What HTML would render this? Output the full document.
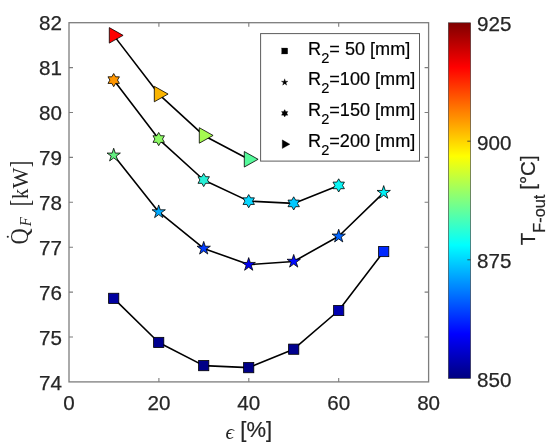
<!DOCTYPE html>
<html><head><meta charset="utf-8"><title>plot</title>
<style>
html,body{margin:0;padding:0;background:#fff;}
body{width:550px;height:448px;overflow:hidden;}
svg{display:block;}
text{font-family:"Liberation Sans",Arial,sans-serif;fill:#262626;}
.t20{font-size:20.6px;stroke:#262626;stroke-width:0.25px;}
.lg{font-size:18.1px;fill:#000;stroke:#000;stroke-width:0.2px;}
.ser{font-family:"Liberation Serif","DejaVu Serif",serif;}
</style></head><body>
<svg width="550" height="448" viewBox="0 0 550 448">
<defs><linearGradient id="jet" x1="0" y1="1" x2="0" y2="0">
<stop offset="0.0000" stop-color="rgb(0,0,128)"/>
<stop offset="0.0156" stop-color="rgb(0,0,143)"/>
<stop offset="0.0312" stop-color="rgb(0,0,159)"/>
<stop offset="0.0469" stop-color="rgb(0,0,175)"/>
<stop offset="0.0625" stop-color="rgb(0,0,191)"/>
<stop offset="0.0781" stop-color="rgb(0,0,207)"/>
<stop offset="0.0938" stop-color="rgb(0,0,223)"/>
<stop offset="0.1094" stop-color="rgb(0,0,239)"/>
<stop offset="0.1250" stop-color="rgb(0,0,255)"/>
<stop offset="0.1406" stop-color="rgb(0,16,255)"/>
<stop offset="0.1562" stop-color="rgb(0,32,255)"/>
<stop offset="0.1719" stop-color="rgb(0,48,255)"/>
<stop offset="0.1875" stop-color="rgb(0,64,255)"/>
<stop offset="0.2031" stop-color="rgb(0,80,255)"/>
<stop offset="0.2188" stop-color="rgb(0,96,255)"/>
<stop offset="0.2344" stop-color="rgb(0,112,255)"/>
<stop offset="0.2500" stop-color="rgb(0,128,255)"/>
<stop offset="0.2656" stop-color="rgb(0,143,255)"/>
<stop offset="0.2812" stop-color="rgb(0,159,255)"/>
<stop offset="0.2969" stop-color="rgb(0,175,255)"/>
<stop offset="0.3125" stop-color="rgb(0,191,255)"/>
<stop offset="0.3281" stop-color="rgb(0,207,255)"/>
<stop offset="0.3438" stop-color="rgb(0,223,255)"/>
<stop offset="0.3594" stop-color="rgb(0,239,255)"/>
<stop offset="0.3750" stop-color="rgb(0,255,255)"/>
<stop offset="0.3906" stop-color="rgb(16,255,239)"/>
<stop offset="0.4062" stop-color="rgb(32,255,223)"/>
<stop offset="0.4219" stop-color="rgb(48,255,207)"/>
<stop offset="0.4375" stop-color="rgb(64,255,191)"/>
<stop offset="0.4531" stop-color="rgb(80,255,175)"/>
<stop offset="0.4688" stop-color="rgb(96,255,159)"/>
<stop offset="0.4844" stop-color="rgb(112,255,143)"/>
<stop offset="0.5000" stop-color="rgb(128,255,128)"/>
<stop offset="0.5156" stop-color="rgb(143,255,112)"/>
<stop offset="0.5312" stop-color="rgb(159,255,96)"/>
<stop offset="0.5469" stop-color="rgb(175,255,80)"/>
<stop offset="0.5625" stop-color="rgb(191,255,64)"/>
<stop offset="0.5781" stop-color="rgb(207,255,48)"/>
<stop offset="0.5938" stop-color="rgb(223,255,32)"/>
<stop offset="0.6094" stop-color="rgb(239,255,16)"/>
<stop offset="0.6250" stop-color="rgb(255,255,0)"/>
<stop offset="0.6406" stop-color="rgb(255,239,0)"/>
<stop offset="0.6562" stop-color="rgb(255,223,0)"/>
<stop offset="0.6719" stop-color="rgb(255,207,0)"/>
<stop offset="0.6875" stop-color="rgb(255,191,0)"/>
<stop offset="0.7031" stop-color="rgb(255,175,0)"/>
<stop offset="0.7188" stop-color="rgb(255,159,0)"/>
<stop offset="0.7344" stop-color="rgb(255,143,0)"/>
<stop offset="0.7500" stop-color="rgb(255,128,0)"/>
<stop offset="0.7656" stop-color="rgb(255,112,0)"/>
<stop offset="0.7812" stop-color="rgb(255,96,0)"/>
<stop offset="0.7969" stop-color="rgb(255,80,0)"/>
<stop offset="0.8125" stop-color="rgb(255,64,0)"/>
<stop offset="0.8281" stop-color="rgb(255,48,0)"/>
<stop offset="0.8438" stop-color="rgb(255,32,0)"/>
<stop offset="0.8594" stop-color="rgb(255,16,0)"/>
<stop offset="0.8750" stop-color="rgb(255,0,0)"/>
<stop offset="0.8906" stop-color="rgb(239,0,0)"/>
<stop offset="0.9062" stop-color="rgb(223,0,0)"/>
<stop offset="0.9219" stop-color="rgb(207,0,0)"/>
<stop offset="0.9375" stop-color="rgb(191,0,0)"/>
<stop offset="0.9531" stop-color="rgb(175,0,0)"/>
<stop offset="0.9688" stop-color="rgb(159,0,0)"/>
<stop offset="0.9844" stop-color="rgb(143,0,0)"/>
<stop offset="1.0000" stop-color="rgb(128,0,0)"/>
</linearGradient></defs>
<rect x="0" y="0" width="550" height="448" fill="#fff"/>
<rect x="69.0" y="22.7" width="359.60" height="359.20" fill="#fff" stroke="#7d7d7d" stroke-width="1.3"/>
<path d="M158.90 381.9v-4M158.90 22.7v4M248.80 381.9v-4M248.80 22.7v4M338.70 381.9v-4M338.70 22.7v4M69.0 337.00h4M428.6 337.00h-4M69.0 292.10h4M428.6 292.10h-4M69.0 247.20h4M428.6 247.20h-4M69.0 202.30h4M428.6 202.30h-4M69.0 157.40h4M428.6 157.40h-4M69.0 112.50h4M428.6 112.50h-4M69.0 67.60h4M428.6 67.60h-4" stroke="#7d7d7d" stroke-width="1.1" fill="none"/>
<text class="t20" x="62" y="389.8" text-anchor="end">74</text>
<text class="t20" x="62" y="344.8" text-anchor="end">75</text>
<text class="t20" x="62" y="299.8" text-anchor="end">76</text>
<text class="t20" x="62" y="254.8" text-anchor="end">77</text>
<text class="t20" x="62" y="209.9" text-anchor="end">78</text>
<text class="t20" x="62" y="164.9" text-anchor="end">79</text>
<text class="t20" x="62" y="119.9" text-anchor="end">80</text>
<text class="t20" x="62" y="75.0" text-anchor="end">81</text>
<text class="t20" x="62" y="30.0" text-anchor="end">82</text>
<text class="t20" x="69.0" y="409.8" text-anchor="middle">0</text>
<text class="t20" x="158.9" y="409.8" text-anchor="middle">20</text>
<text class="t20" x="248.8" y="409.8" text-anchor="middle">40</text>
<text class="t20" x="338.7" y="409.8" text-anchor="middle">60</text>
<text class="t20" x="428.6" y="409.8" text-anchor="middle">80</text>
<polyline points="113.70,298.35 158.70,342.45 203.70,365.62 248.70,367.65 293.70,349.20 338.70,310.50 383.70,251.55" fill="none" stroke="#000" stroke-width="1.6" stroke-linejoin="round"/>
<polyline points="113.70,155.25 158.70,211.95 203.70,248.40 248.70,264.60 293.70,261.45 338.70,236.25 383.70,192.60" fill="none" stroke="#000" stroke-width="1.6" stroke-linejoin="round"/>
<polyline points="113.70,80.10 158.70,139.05 203.70,180.00 248.70,201.15 293.70,203.40 338.70,185.40" fill="none" stroke="#000" stroke-width="1.6" stroke-linejoin="round"/>
<polyline points="113.70,35.37 158.70,94.05 203.70,135.45 248.70,159.30" fill="none" stroke="#000" stroke-width="1.6" stroke-linejoin="round"/>
<rect x="108.60" y="293.25" width="10.20" height="10.20" fill="rgb(0,0,160)" stroke="#000" stroke-width="0.8" stroke-linejoin="miter"/>
<rect x="153.60" y="337.35" width="10.20" height="10.20" fill="rgb(0,0,143)" stroke="#000" stroke-width="0.8" stroke-linejoin="miter"/>
<rect x="198.60" y="360.52" width="10.20" height="10.20" fill="rgb(0,0,135)" stroke="#000" stroke-width="0.8" stroke-linejoin="miter"/>
<rect x="243.60" y="362.55" width="10.20" height="10.20" fill="rgb(0,0,135)" stroke="#000" stroke-width="0.8" stroke-linejoin="miter"/>
<rect x="288.60" y="344.10" width="10.20" height="10.20" fill="rgb(0,0,143)" stroke="#000" stroke-width="0.8" stroke-linejoin="miter"/>
<rect x="333.60" y="305.40" width="10.20" height="10.20" fill="rgb(0,0,175)" stroke="#000" stroke-width="0.8" stroke-linejoin="miter"/>
<rect x="378.60" y="246.45" width="10.20" height="10.20" fill="rgb(0,40,255)" stroke="#000" stroke-width="0.8" stroke-linejoin="miter"/>
<polygon points="113.70,148.25 115.27,153.09 120.36,153.09 116.24,156.08 117.81,160.91 113.70,157.92 109.59,160.91 111.16,156.08 107.04,153.09 112.13,153.09" fill="rgb(100,240,130)" stroke="#000" stroke-width="0.8" stroke-linejoin="miter"/>
<polygon points="158.70,204.95 160.27,209.79 165.36,209.79 161.24,212.78 162.81,217.61 158.70,214.62 154.59,217.61 156.16,212.78 152.04,209.79 157.13,209.79" fill="rgb(0,170,255)" stroke="#000" stroke-width="0.8" stroke-linejoin="miter"/>
<polygon points="203.70,241.40 205.27,246.24 210.36,246.24 206.24,249.23 207.81,254.06 203.70,251.07 199.59,254.06 201.16,249.23 197.04,246.24 202.13,246.24" fill="rgb(0,60,255)" stroke="#000" stroke-width="0.8" stroke-linejoin="miter"/>
<polygon points="248.70,257.60 250.27,262.44 255.36,262.44 251.24,265.43 252.81,270.26 248.70,267.27 244.59,270.26 246.16,265.43 242.04,262.44 247.13,262.44" fill="rgb(0,0,240)" stroke="#000" stroke-width="0.8" stroke-linejoin="miter"/>
<polygon points="293.70,254.45 295.27,259.29 300.36,259.29 296.24,262.28 297.81,267.11 293.70,264.12 289.59,267.11 291.16,262.28 287.04,259.29 292.13,259.29" fill="rgb(0,10,255)" stroke="#000" stroke-width="0.8" stroke-linejoin="miter"/>
<polygon points="338.70,229.25 340.27,234.09 345.36,234.09 341.24,237.08 342.81,241.91 338.70,238.92 334.59,241.91 336.16,237.08 332.04,234.09 337.13,234.09" fill="rgb(0,100,255)" stroke="#000" stroke-width="0.8" stroke-linejoin="miter"/>
<polygon points="383.70,185.60 385.27,190.44 390.36,190.44 386.24,193.43 387.81,198.26 383.70,195.27 379.59,198.26 381.16,193.43 377.04,190.44 382.13,190.44" fill="rgb(0,240,245)" stroke="#000" stroke-width="0.8" stroke-linejoin="miter"/>
<polygon points="113.70,73.50 115.60,76.80 119.42,76.80 117.51,80.10 119.42,83.40 115.60,83.40 113.70,86.70 111.80,83.40 107.98,83.40 109.89,80.10 107.98,76.80 111.80,76.80" fill="rgb(255,150,0)" stroke="#000" stroke-width="0.8" stroke-linejoin="miter"/>
<polygon points="158.70,132.45 160.60,135.75 164.42,135.75 162.51,139.05 164.42,142.35 160.60,142.35 158.70,145.65 156.80,142.35 152.98,142.35 154.89,139.05 152.98,135.75 156.80,135.75" fill="rgb(140,250,100)" stroke="#000" stroke-width="0.8" stroke-linejoin="miter"/>
<polygon points="203.70,173.40 205.60,176.70 209.42,176.70 207.51,180.00 209.42,183.30 205.60,183.30 203.70,186.60 201.80,183.30 197.98,183.30 199.89,180.00 197.98,176.70 201.80,176.70" fill="rgb(40,240,215)" stroke="#000" stroke-width="0.8" stroke-linejoin="miter"/>
<polygon points="248.70,194.55 250.60,197.85 254.42,197.85 252.51,201.15 254.42,204.45 250.60,204.45 248.70,207.75 246.80,204.45 242.98,204.45 244.89,201.15 242.98,197.85 246.80,197.85" fill="rgb(10,215,255)" stroke="#000" stroke-width="0.8" stroke-linejoin="miter"/>
<polygon points="293.70,196.80 295.60,200.10 299.42,200.10 297.51,203.40 299.42,206.70 295.60,206.70 293.70,210.00 291.80,206.70 287.98,206.70 289.89,203.40 287.98,200.10 291.80,200.10" fill="rgb(0,200,255)" stroke="#000" stroke-width="0.8" stroke-linejoin="miter"/>
<polygon points="338.70,178.80 340.60,182.10 344.42,182.10 342.51,185.40 344.42,188.70 340.60,188.70 338.70,192.00 336.80,188.70 332.98,188.70 334.89,185.40 332.98,182.10 336.80,182.10" fill="rgb(10,245,245)" stroke="#000" stroke-width="0.8" stroke-linejoin="miter"/>
<polygon points="109.30,27.62 123.10,35.37 109.30,43.12" fill="rgb(255,0,0)" stroke="#000" stroke-width="0.8" stroke-linejoin="miter"/>
<polygon points="154.30,86.30 168.10,94.05 154.30,101.80" fill="rgb(250,180,0)" stroke="#000" stroke-width="0.8" stroke-linejoin="miter"/>
<polygon points="199.30,127.70 213.10,135.45 199.30,143.20" fill="rgb(165,250,80)" stroke="#000" stroke-width="0.8" stroke-linejoin="miter"/>
<polygon points="244.30,151.55 258.10,159.30 244.30,167.05" fill="rgb(85,250,155)" stroke="#000" stroke-width="0.8" stroke-linejoin="miter"/>
<rect x="260.6" y="33.6" width="158.9" height="127.5" fill="#fff" stroke="#5c5c5c" stroke-width="1"/>
<rect x="281.74" y="48.04" width="5.92" height="5.92" fill="#000" stroke="#000" stroke-width="0.3" stroke-linejoin="miter"/>
<text class="lg" x="308.1" y="55.3" xml:space="preserve">R<tspan font-size="14.6" dy="8">2</tspan><tspan dy="-8">= 50 [mm]</tspan></text>
<polygon points="284.70,78.80 285.49,81.22 288.03,81.22 285.97,82.71 286.76,85.13 284.70,83.64 282.64,85.13 283.43,82.71 281.37,81.22 283.91,81.22" fill="#000" stroke="#000" stroke-width="0.3" stroke-linejoin="miter"/>
<text class="lg" x="308.1" y="85.4" xml:space="preserve">R<tspan font-size="14.6" dy="8">2</tspan><tspan dy="-8">=100 [mm]</tspan></text>
<polygon points="284.70,109.60 285.77,111.45 287.90,111.45 286.83,113.30 287.90,115.15 285.77,115.15 284.70,117.00 283.63,115.15 281.50,115.15 282.57,113.30 281.50,111.45 283.63,111.45" fill="#000" stroke="#000" stroke-width="0.3" stroke-linejoin="miter"/>
<text class="lg" x="308.1" y="116.4" xml:space="preserve">R<tspan font-size="14.6" dy="8">2</tspan><tspan dy="-8">=150 [mm]</tspan></text>
<polygon points="282.24,139.86 289.96,144.20 282.24,148.54" fill="#000" stroke="#000" stroke-width="0.3" stroke-linejoin="miter"/>
<text class="lg" x="308.1" y="147.3" xml:space="preserve">R<tspan font-size="14.6" dy="8">2</tspan><tspan dy="-8">=200 [mm]</tspan></text>
<rect x="448.3" y="22.8" width="22.4" height="355.7" fill="url(#jet)" stroke="#3a3a3a" stroke-width="0.6"/>
<text class="t20" x="477" y="386.9">850</text>
<path d="M470.7 259.8h-3.4" stroke="#333" stroke-width="0.8"/>
<text class="t20" x="477" y="268.2">875</text>
<path d="M470.7 141.2h-3.4" stroke="#333" stroke-width="0.8"/>
<text class="t20" x="477" y="149.6">900</text>
<text class="t20" x="477" y="30.9">925</text>
<g transform="translate(535.0,245.2) rotate(-90)"><text font-size="20.5" stroke="#262626" stroke-width="0.2" x="0" y="0">T<tspan font-size="16.3" dy="10.2">F-out</tspan><tspan x="55.4" dy="-10.4">[°C]</tspan></text></g>
<text class="ser" font-size="21" font-style="italic" x="225.4" y="438.6">ϵ</text>
<text font-size="22" x="240.3" y="437.2" stroke="#262626" stroke-width="0.2">[%]</text>
<g transform="translate(28,243.6) rotate(-90)"><text class="ser" font-size="21.5"  transform="translate(-0.9,0) scale(1.04,1.18)">Q</text><circle cx="6.9" cy="-20.2" r="1.05" fill="#262626"/><text class="ser" font-size="15" font-style="italic" transform="translate(17.4,3.2) scale(1.0,1.15)">F</text><text class="ser" font-size="24.5"  transform="translate(37.3,1.4) scale(0.8,1.15)">[</text><text class="ser" font-size="21.5"  transform="translate(44.5,0) scale(0.95,1.08)">k</text><text class="ser" font-size="21.5"  transform="translate(55.2,0) scale(1.03,1.08)">W</text><text class="ser" font-size="24.5"  transform="translate(76.4,1.4) scale(0.8,1.15)">]</text></g>
</svg></body></html>
